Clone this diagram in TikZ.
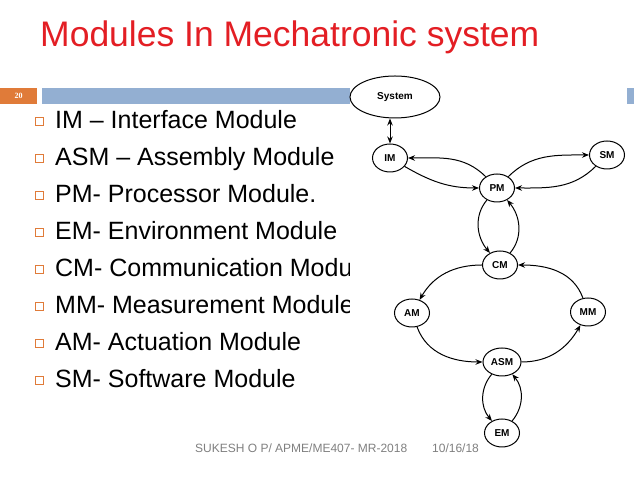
\documentclass[tikz,border=0pt]{standalone}
\usepackage{fontspec}
\setmainfont{Liberation Sans}
\newfontfamily\numfont{Liberation Serif}
\usetikzlibrary{shapes,arrows.meta,positioning,calc}
\usepackage{xcolor}
\definecolor{titlered}{HTML}{E31E24}
\definecolor{barblue}{HTML}{93AFD2}
\definecolor{slideorange}{HTML}{E07B39}
\definecolor{footgray}{HTML}{7F7F7F}
\tikzset{
  module/.style={draw,line width=1pt,ellipse,minimum width=35pt,minimum height=28pt,inner sep=1pt,
    font=\bfseries\fontsize{10}{11}\selectfont},
  flow/.style={->,line width=1pt},
  item/.style={anchor=base west,inner sep=0pt,font=\fontsize{25}{28}\selectfont},
  bulletbox/.style={draw=slideorange,thin,minimum size=8pt,inner sep=0pt},
}

\begin{document}
\begin{tikzpicture}[x=1pt,y=1pt,>={Stealth[length=7pt,width=5.5pt]}]
    \useasboundingbox (0,0) rectangle (638,478);
    % Title and header bar
    \node[anchor=base west,inner sep=0pt,text=titlered,font=\fontsize{35.5}{40}\selectfont] (title) at (40,431) {Modules In Mechatronic system};
    \fill[barblue] (42,374) rectangle (634,390);
    \node[fill=slideorange,text=white,minimum width=37pt,minimum height=16pt,inner sep=0pt,
        font=\numfont\bfseries\fontsize{8}{9}\selectfont] (slideno) at (18.5,382) {20};

    % List of modules
    \foreach \txt [count=\i from 0] in {IM – Interface Module, ASM – Assembly Module,
        PM- Processor Module., EM- Environment Module, CM- Communication Module,
        MM- Measurement Module, AM- Actuation Module, SM- Software Module} {
        \node[bulletbox] (b\i) at (39,357-37*\i) {};
        \node[item] (t\i) at (55,349-37*\i) {\txt};
    }

    % Picture area
    \fill[white] (350,60) rectangle (627,404);

    % Modules
    \node[module,minimum width=90pt,minimum height=42pt] (system) at (395,381) {System};
    \node[module] (im) at (390,320) {IM};
    \node[module] (sm) at (607,323) {SM};
    \node[module] (pm) at (497,290) {PM};
    \node[module] (cm) at (500,213) {CM};
    \node[module] (am) at (412,165) {AM};
    \node[module] (mm) at (588,166) {MM};
    \node[module,minimum width=38pt] (asm) at (502,116) {ASM};
    \node[module] (em) at (502,45) {EM};

    % Arrows
    \draw[flow,<->] (im.north) -- (im.north |- system.south);
    \draw[flow] (pm) to[out=135,in=0] (im);
    \draw[flow] (im) to[out=-30,in=180] (pm);
    \draw[flow] (pm) to[out=45,in=180] (sm);
    \draw[flow] (sm) to[out=225,in=0] (pm);
    \draw[flow] (pm) to[out=230,in=130] (cm);
    \draw[flow] (cm) to[out=50,in=-50] (pm);
    \draw[flow] (cm) to[out=180,in=60] (am);
    \draw[flow] (mm) to[out=110,in=0] (cm);
    \draw[flow] (am) to[out=-70,in=180] (asm);
    \draw[flow] (asm) to[out=0,in=240] (mm);
    \draw[flow] (asm) to[out=230,in=130] (em);
    \draw[flow] (em) to[out=50,in=-50] (asm);

    % Footer
    \node[anchor=base west,inner sep=0pt,text=footgray,font=\fontsize{12}{14}\selectfont] (author) at (195,25) {SUKESH O P/ APME/ME407- MR-2018};
    \node[anchor=base west,inner sep=0pt,text=footgray,font=\fontsize{12}{14}\selectfont] (date) at (432,25) {10/16/18};
\end{tikzpicture}
\end{document}
